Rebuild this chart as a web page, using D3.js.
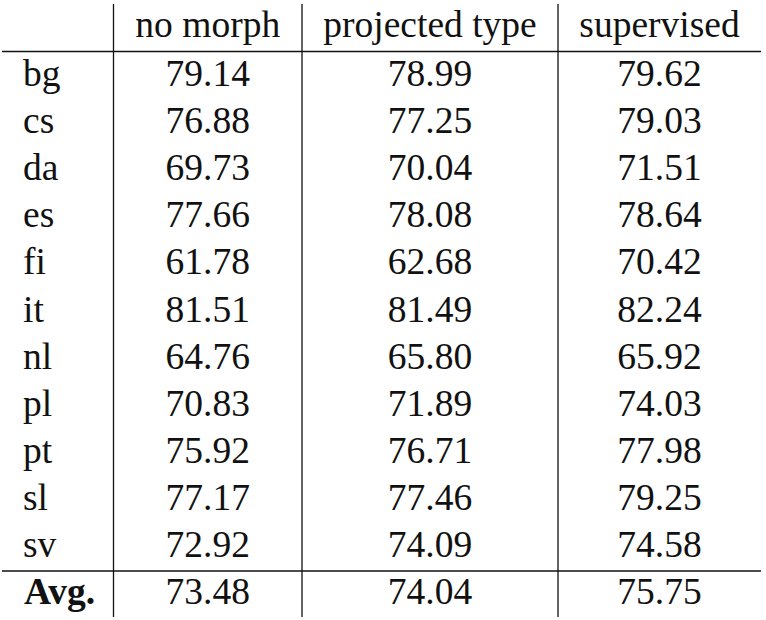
<!DOCTYPE html>
<html>
<head>
<meta charset="utf-8">
<script src="https://cdn.jsdelivr.net/npm/d3@7"></script>
<style>
  body { margin: 0; background: #fff; }
</style>
</head>
<body>
<div class="table"></div>
<script>
const headers = ["no morph", "projected type", "supervised"]
const langs = ["bg", "cs", "da", "es", "fi", "it", "nl", "pl", "pt", "sl", "sv"]
const noMorph = [79.14, 76.88, 69.73, 77.66, 61.78, 81.51, 64.76, 70.83, 75.92, 77.17, 72.92]
const projectedType = [78.99, 77.25, 70.04, 78.08, 62.68, 81.49, 65.80, 71.89, 76.71, 77.46, 74.09]
const supervised = [79.62, 79.03, 71.51, 78.64, 70.42, 82.24, 65.92, 74.03, 77.98, 79.25, 74.58]
const avgLabel = "Avg."
const avgValues = [73.48, 74.04, 75.75]

const width = 766
const height = 620
const fontSize = 37.5
const fontFamily = "'Liberation Serif', 'Times New Roman', Times, serif"

const svg = d3.select(".table").append("svg")
    .attr("width", width)
    .attr("height", height)
    .attr("font-family", fontFamily)
    .attr("fill", "#111")

// column edges: label | no morph | projected type | supervised
const colEdges = [2, 113.5, 302, 558, 761]
const colNames = ["label"].concat(headers)

const xLeft = d3.scaleOrdinal().domain(colNames).range(colEdges.slice(0, 4))
const xRight = d3.scaleOrdinal().domain(colNames).range(colEdges.slice(1))
const xCenter = c => (xLeft(c) + xRight(c)) / 2

// baselines of the body rows
const yRow = d3.scalePoint()
    .domain(langs)
    .range([86, 557])

const headerBaseline = 36.5
const avgBaseline = 603.5
const ruleTop = 51.5
const ruleBottom = 571

const series = [noMorph, projectedType, supervised]

// header
svg.append("g").selectAll("text")
    .data(headers)
    .join("text")
    .attr("x", d => xCenter(d))
    .attr("y", headerBaseline)
    .attr("text-anchor", "middle")
    .attr("font-size", fontSize)
    .text(d => d)

// body rows
const rows = svg.append("g").selectAll("g")
    .data(langs)
    .join("g")
    .attr("transform", d => `translate(0, ${yRow(d)})`)

rows.append("text")
    .attr("x", xLeft("label") + 21)
    .attr("font-size", fontSize)
    .text(d => d)

headers.forEach((h, j) => {
    rows.append("text")
        .attr("x", xCenter(h))
        .attr("text-anchor", "middle")
        .attr("font-size", fontSize)
        .text((d, i) => series[j][i].toFixed(2))
})

// average row
svg.append("text")
    .attr("x", xLeft("label") + 22)
    .attr("y", avgBaseline)
    .attr("font-size", fontSize)
    .attr("font-weight", "bold")
    .text(avgLabel)

svg.append("g").selectAll("text")
    .data(avgValues)
    .join("text")
    .attr("x", (d, i) => xCenter(headers[i]))
    .attr("y", avgBaseline)
    .attr("text-anchor", "middle")
    .attr("font-size", fontSize)
    .text(d => d.toFixed(2))

// rules
const lines = svg.append("g")
    .attr("stroke", "#111")
    .attr("stroke-width", 1.3)

lines.selectAll("line.h")
    .data([ruleTop, ruleBottom])
    .join("line")
    .attr("class", "h")
    .attr("x1", colEdges[0])
    .attr("x2", colEdges[4])
    .attr("y1", d => d)
    .attr("y2", d => d)

lines.selectAll("line.v")
    .data(colEdges.slice(1, 4))
    .join("line")
    .attr("class", "v")
    .attr("x1", d => d)
    .attr("x2", d => d)
    .attr("y1", 4)
    .attr("y2", 617)
</script>
</body>
</html>
